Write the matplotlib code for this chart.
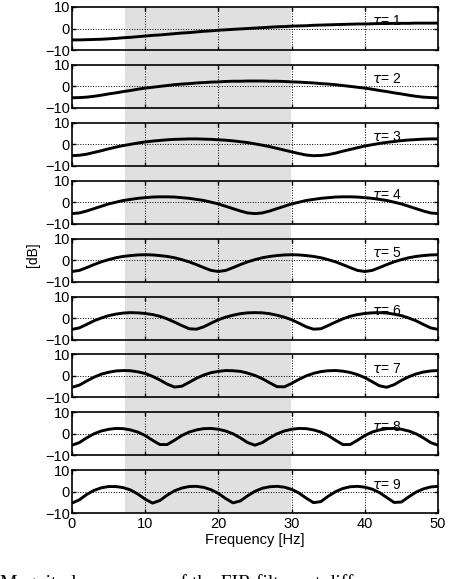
import numpy as np
import matplotlib
matplotlib.use('Agg')
import matplotlib.pyplot as plt
from matplotlib.patches import Rectangle

plt.rcParams['font.family'] = ['Liberation Sans', 'DejaVu Sans']
plt.rcParams['axes.unicode_minus'] = True

# frequency grid [Hz] and the magnitude responses [dB]
freq = np.arange(0, 51)

tau1 = [-5.3, -5.3, -5.2, -5.1, -5.0, -4.8, -4.6, -4.3, -4.1, -3.8, -3.5,
        -3.2, -3.0, -2.7, -2.4, -2.1, -1.9, -1.6, -1.3, -1.1, -0.8,
        -0.6, -0.4, -0.2, 0.0, 0.2, 0.4, 0.6, 0.8, 0.9, 1.1,
        1.2, 1.3, 1.5, 1.6, 1.7, 1.8, 1.9, 2.0, 2.1, 2.1,
        2.2, 2.3, 2.3, 2.4, 2.4, 2.4, 2.5, 2.5, 2.5, 2.5]
tau2 = [-5.3, -5.2, -5.0, -4.6, -4.1, -3.5, -3.0, -2.4, -1.9, -1.3, -0.8,
        -0.4, 0.0, 0.4, 0.8, 1.1, 1.3, 1.6, 1.8, 2.0, 2.1,
        2.3, 2.4, 2.4, 2.5, 2.5, 2.5, 2.4, 2.4, 2.3, 2.1,
        2.0, 1.8, 1.6, 1.3, 1.1, 0.8, 0.4, 0.0, -0.4, -0.8,
        -1.3, -1.9, -2.4, -3.0, -3.5, -4.1, -4.6, -5.0, -5.2, -5.3]
tau3 = [-5.3, -5.1, -4.6, -3.8, -3.0, -2.1, -1.3, -0.6, 0.0, 0.6, 1.1,
        1.5, 1.8, 2.1, 2.3, 2.4, 2.5, 2.5, 2.4, 2.3, 2.1,
        1.9, 1.6, 1.2, 0.8, 0.2, -0.4, -1.1, -1.9, -2.7, -3.5,
        -4.3, -5.0, -5.3, -5.2, -4.8, -4.1, -3.2, -2.4, -1.6, -0.8,
        -0.2, 0.4, 0.9, 1.3, 1.7, 2.0, 2.2, 2.4, 2.5, 2.5]
tau4 = [-5.3, -5.0, -4.1, -3.0, -1.9, -0.8, 0.0, 0.8, 1.3, 1.8, 2.1,
        2.4, 2.5, 2.5, 2.4, 2.1, 1.8, 1.3, 0.8, 0.0, -0.8,
        -1.9, -3.0, -4.1, -5.0, -5.3, -5.0, -4.1, -3.0, -1.9, -0.8,
        0.0, 0.8, 1.3, 1.8, 2.1, 2.4, 2.5, 2.5, 2.4, 2.1,
        1.8, 1.3, 0.8, 0.0, -0.8, -1.9, -3.0, -4.1, -5.0, -5.3]
tau5 = [-5.3, -4.8, -3.5, -2.1, -0.8, 0.2, 1.1, 1.7, 2.1, 2.4, 2.5,
        2.4, 2.1, 1.7, 1.1, 0.2, -0.8, -2.1, -3.5, -4.8, -5.3,
        -4.8, -3.5, -2.1, -0.8, 0.2, 1.1, 1.7, 2.1, 2.4, 2.5,
        2.4, 2.1, 1.7, 1.1, 0.2, -0.8, -2.1, -3.5, -4.8, -5.3,
        -4.8, -3.5, -2.1, -0.8, 0.2, 1.1, 1.7, 2.1, 2.4, 2.5]
tau6 = [-5.3, -4.6, -3.0, -1.3, 0.0, 1.1, 1.8, 2.3, 2.5, 2.4, 2.1,
        1.6, 0.8, -0.4, -1.9, -3.5, -5.0, -5.2, -4.1, -2.4, -0.8,
        0.4, 1.3, 2.0, 2.4, 2.5, 2.4, 2.0, 1.3, 0.4, -0.8,
        -2.4, -4.1, -5.2, -5.0, -3.5, -1.9, -0.4, 0.8, 1.6, 2.1,
        2.4, 2.5, 2.3, 1.8, 1.1, 0.0, -1.3, -3.0, -4.6, -5.3]
tau7 = [-5.3, -4.3, -2.4, -0.6, 0.8, 1.7, 2.3, 2.5, 2.4, 1.9, 1.1,
        -0.2, -1.9, -3.8, -5.2, -4.8, -3.0, -1.1, 0.4, 1.5, 2.1,
        2.5, 2.4, 2.1, 1.3, 0.2, -1.3, -3.2, -5.0, -5.1, -3.5,
        -1.6, 0.0, 1.2, 2.0, 2.4, 2.5, 2.2, 1.6, 0.6, -0.8,
        -2.7, -4.6, -5.3, -4.1, -2.1, -0.4, 0.9, 1.8, 2.3, 2.5]
tau8 = [-5.3, -4.1, -1.9, 0.0, 1.3, 2.1, 2.5, 2.4, 1.8, 0.8, -0.8,
        -3.0, -5.0, -5.0, -3.0, -0.8, 0.8, 1.8, 2.4, 2.5, 2.1,
        1.3, 0.0, -1.9, -4.1, -5.3, -4.1, -1.9, 0.0, 1.3, 2.1,
        2.5, 2.4, 1.8, 0.8, -0.8, -3.0, -5.0, -5.0, -3.0, -0.8,
        0.8, 1.8, 2.4, 2.5, 2.1, 1.3, 0.0, -1.9, -4.1, -5.3]
tau9 = [-5.3, -3.8, -1.3, 0.6, 1.8, 2.4, 2.4, 1.9, 0.8, -1.1, -3.5,
        -5.3, -4.1, -1.6, 0.4, 1.7, 2.4, 2.5, 2.0, 0.9, -0.8,
        -3.2, -5.2, -4.3, -1.9, 0.2, 1.6, 2.3, 2.5, 2.1, 1.1,
        -0.6, -3.0, -5.1, -4.6, -2.1, 0.0, 1.5, 2.3, 2.5, 2.1,
        1.2, -0.4, -2.7, -5.0, -4.8, -2.4, -0.2, 1.3, 2.2, 2.5]

responses = [tau1, tau2, tau3, tau4, tau5, tau6, tau7, tau8, tau9]
labels = [r'$\tau$= %d' % (i + 1) for i in range(9)]
band = (7.25, 29.9)   # shaded passband [Hz]

W, H = 474, 579
fig = plt.figure(figsize=(W / 100, H / 100), dpi=100)

left, right = 72, 438
top0, ax_h, pitch = 7, 43, 57.9

axes = []
for i, (resp, lab) in enumerate(zip(responses, labels)):
    top = top0 + i * pitch
    ax = fig.add_axes([left / W, 1 - (top + ax_h) / H, (right - left) / W, ax_h / H])
    ax.set_facecolor('none')
    ax.plot(freq, resp, color='black', lw=2.1, zorder=3)
    ax.set_xlim(0, 50)
    ax.set_ylim(-10, 10)
    ax.set_xticks([0, 10, 20, 30, 40, 50])
    ax.set_yticks([-10, 0, 10])
    for x in [10, 20, 30, 40]:
        ax.axvline(x, color='black', ls=':', lw=0.7, zorder=1)
    ax.axhline(0, color='black', ls=':', lw=0.7, zorder=1)
    ax.tick_params(direction='in', top=True, right=True, length=3, width=1,
                   labelsize=10.5, pad=1.5)
    ax.tick_params(axis='x', pad=3)
    if i < 8:
        ax.tick_params(labelbottom=False)
    for s in ax.spines.values():
        s.set_linewidth(1.2)
    ax.text(41, 3.3, lab, fontsize=10, va='center', ha='left', zorder=4)
    axes.append(ax)

# grey band behind all panels
b0 = axes[0].transData.transform((band[0], 10))
b1 = axes[-1].transData.transform((band[1], -10))
x0, y1 = fig.transFigure.inverted().transform(b0)
x1, y0 = fig.transFigure.inverted().transform(b1)
fig.patches.append(Rectangle((x0, y0), x1 - x0, y1 - y0, transform=fig.transFigure,
                             facecolor='#e0e0e0', edgecolor='none', zorder=-10))

axes[-1].set_xlabel('Frequency [Hz]', fontsize=10.5, labelpad=1)
fig.text(33 / W, 1 - 255 / H, '[dB]', rotation=90, fontsize=10, ha='center', va='center')

fig.text(0.0, 1 - 574 / H, 'Magnitude responses of the FIR filters at diff',
         family='Liberation Serif', fontsize=14, ha='left', va='top')

fig.savefig('out.png', dpi=100)
